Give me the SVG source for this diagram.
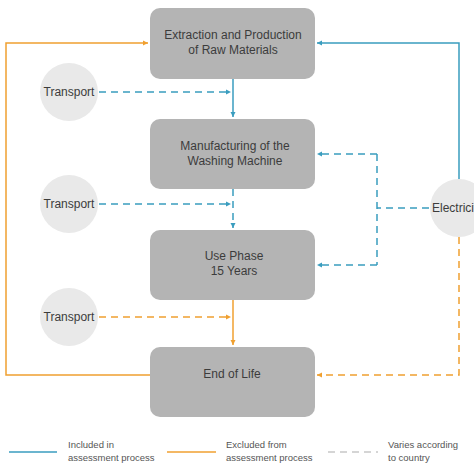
<svg xmlns="http://www.w3.org/2000/svg" width="474" height="474" viewBox="0 0 474 474">
<style>
.box{fill:#b4b4b4;}
.circ{fill:#e9e9e9;}
.t{font-family:"Liberation Sans",Arial,sans-serif;font-size:12px;fill:#3c3c3c;text-anchor:middle;}
.tl{font-family:"Liberation Sans",Arial,sans-serif;font-size:12px;fill:#3c3c3c;}
.lg{font-family:"Liberation Sans",Arial,sans-serif;font-size:9.5px;fill:#555;}
.b{stroke:#3a9dbf;stroke-width:1.5;fill:none;}
.o{stroke:#f0a030;stroke-width:1.5;fill:none;}
.d{stroke-dasharray:7,5;}
</style>
<defs>
<marker id="ab" markerWidth="6" markerHeight="6" refX="5" refY="3" orient="auto" markerUnits="userSpaceOnUse"><path d="M0,0.5 L5,3 L0,5.5 Z" fill="#3a9dbf"/></marker>
<marker id="ao" markerWidth="6" markerHeight="6" refX="5" refY="3" orient="auto" markerUnits="userSpaceOnUse"><path d="M0,0.5 L5,3 L0,5.5 Z" fill="#f0a030"/></marker>
</defs>
<rect width="474" height="474" fill="#ffffff"/>
<g id="connectors">
<path class="o" d="M150,375 H6 V43 H148" marker-end="url(#ao)"/>
<path class="b" d="M459,179 V43 H317" marker-end="url(#ab)"/>
<path class="b" d="M233,79 V117" marker-end="url(#ab)"/>
<path class="b d" d="M99,92 H231" marker-end="url(#ab)"/>
<path class="b d" d="M233,189 V228" marker-end="url(#ab)"/>
<path class="b d" d="M99,204 H231" marker-end="url(#ab)"/>
<path class="b d" d="M429,208 H377"/>
<path class="b d" d="M377,154 V265"/>
<path class="b d" d="M377,154 H317" marker-end="url(#ab)"/>
<path class="b d" d="M377,265 H317" marker-end="url(#ab)"/>
<path class="o" d="M233,300 V345" marker-end="url(#ao)"/>
<path class="o d" d="M99,317 H231" marker-end="url(#ao)"/>
<path class="o d" d="M459,237 V375 H317" marker-end="url(#ao)"/>
</g>
<g id="extraction"><rect class="box" x="150" y="8" width="165" height="71" rx="10"/><text class="t" x="233" y="39">Extraction and Production</text><text class="t" x="233" y="54">of Raw Materials</text></g>
<g id="manufacturing"><rect class="box" x="150" y="119" width="165" height="70" rx="10"/><text class="t" x="235" y="150">Manufacturing of the</text><text class="t" x="235" y="165">Washing Machine</text></g>
<g id="use"><rect class="box" x="150" y="230" width="165" height="70" rx="10"/><text class="t" x="234" y="260">Use Phase</text><text class="t" x="234" y="275">15 Years</text></g>
<g id="endoflife"><rect class="box" x="150" y="347" width="165" height="70" rx="10"/><text class="t" x="232" y="378">End of Life</text></g>
<g id="transport1"><circle class="circ" cx="69" cy="92" r="29"/><text class="t" x="69" y="96">Transport</text></g>
<g id="transport2"><circle class="circ" cx="69" cy="204" r="29"/><text class="t" x="69" y="208">Transport</text></g>
<g id="transport3"><circle class="circ" cx="69" cy="317" r="29"/><text class="t" x="69" y="321">Transport</text></g>
<g id="electricity"><circle class="circ" cx="459" cy="208" r="29"/><text class="tl" x="432" y="212">Electricity</text></g>
<g id="legend">
<line class="b" x1="9" y1="452" x2="57" y2="452"/>
<text class="lg" x="68" y="448">Included in</text><text class="lg" x="68" y="461">assessment process</text>
<line class="o" x1="167" y1="452" x2="216" y2="452"/>
<text class="lg" x="226" y="448">Excluded from</text><text class="lg" x="226" y="461">assessment process</text>
<line x1="328" y1="452" x2="378" y2="452" stroke="#c8c8c8" stroke-width="1.5" stroke-dasharray="7,5"/>
<text class="lg" x="388" y="448">Varies according</text><text class="lg" x="388" y="461">to country</text>
</g>
</svg>
